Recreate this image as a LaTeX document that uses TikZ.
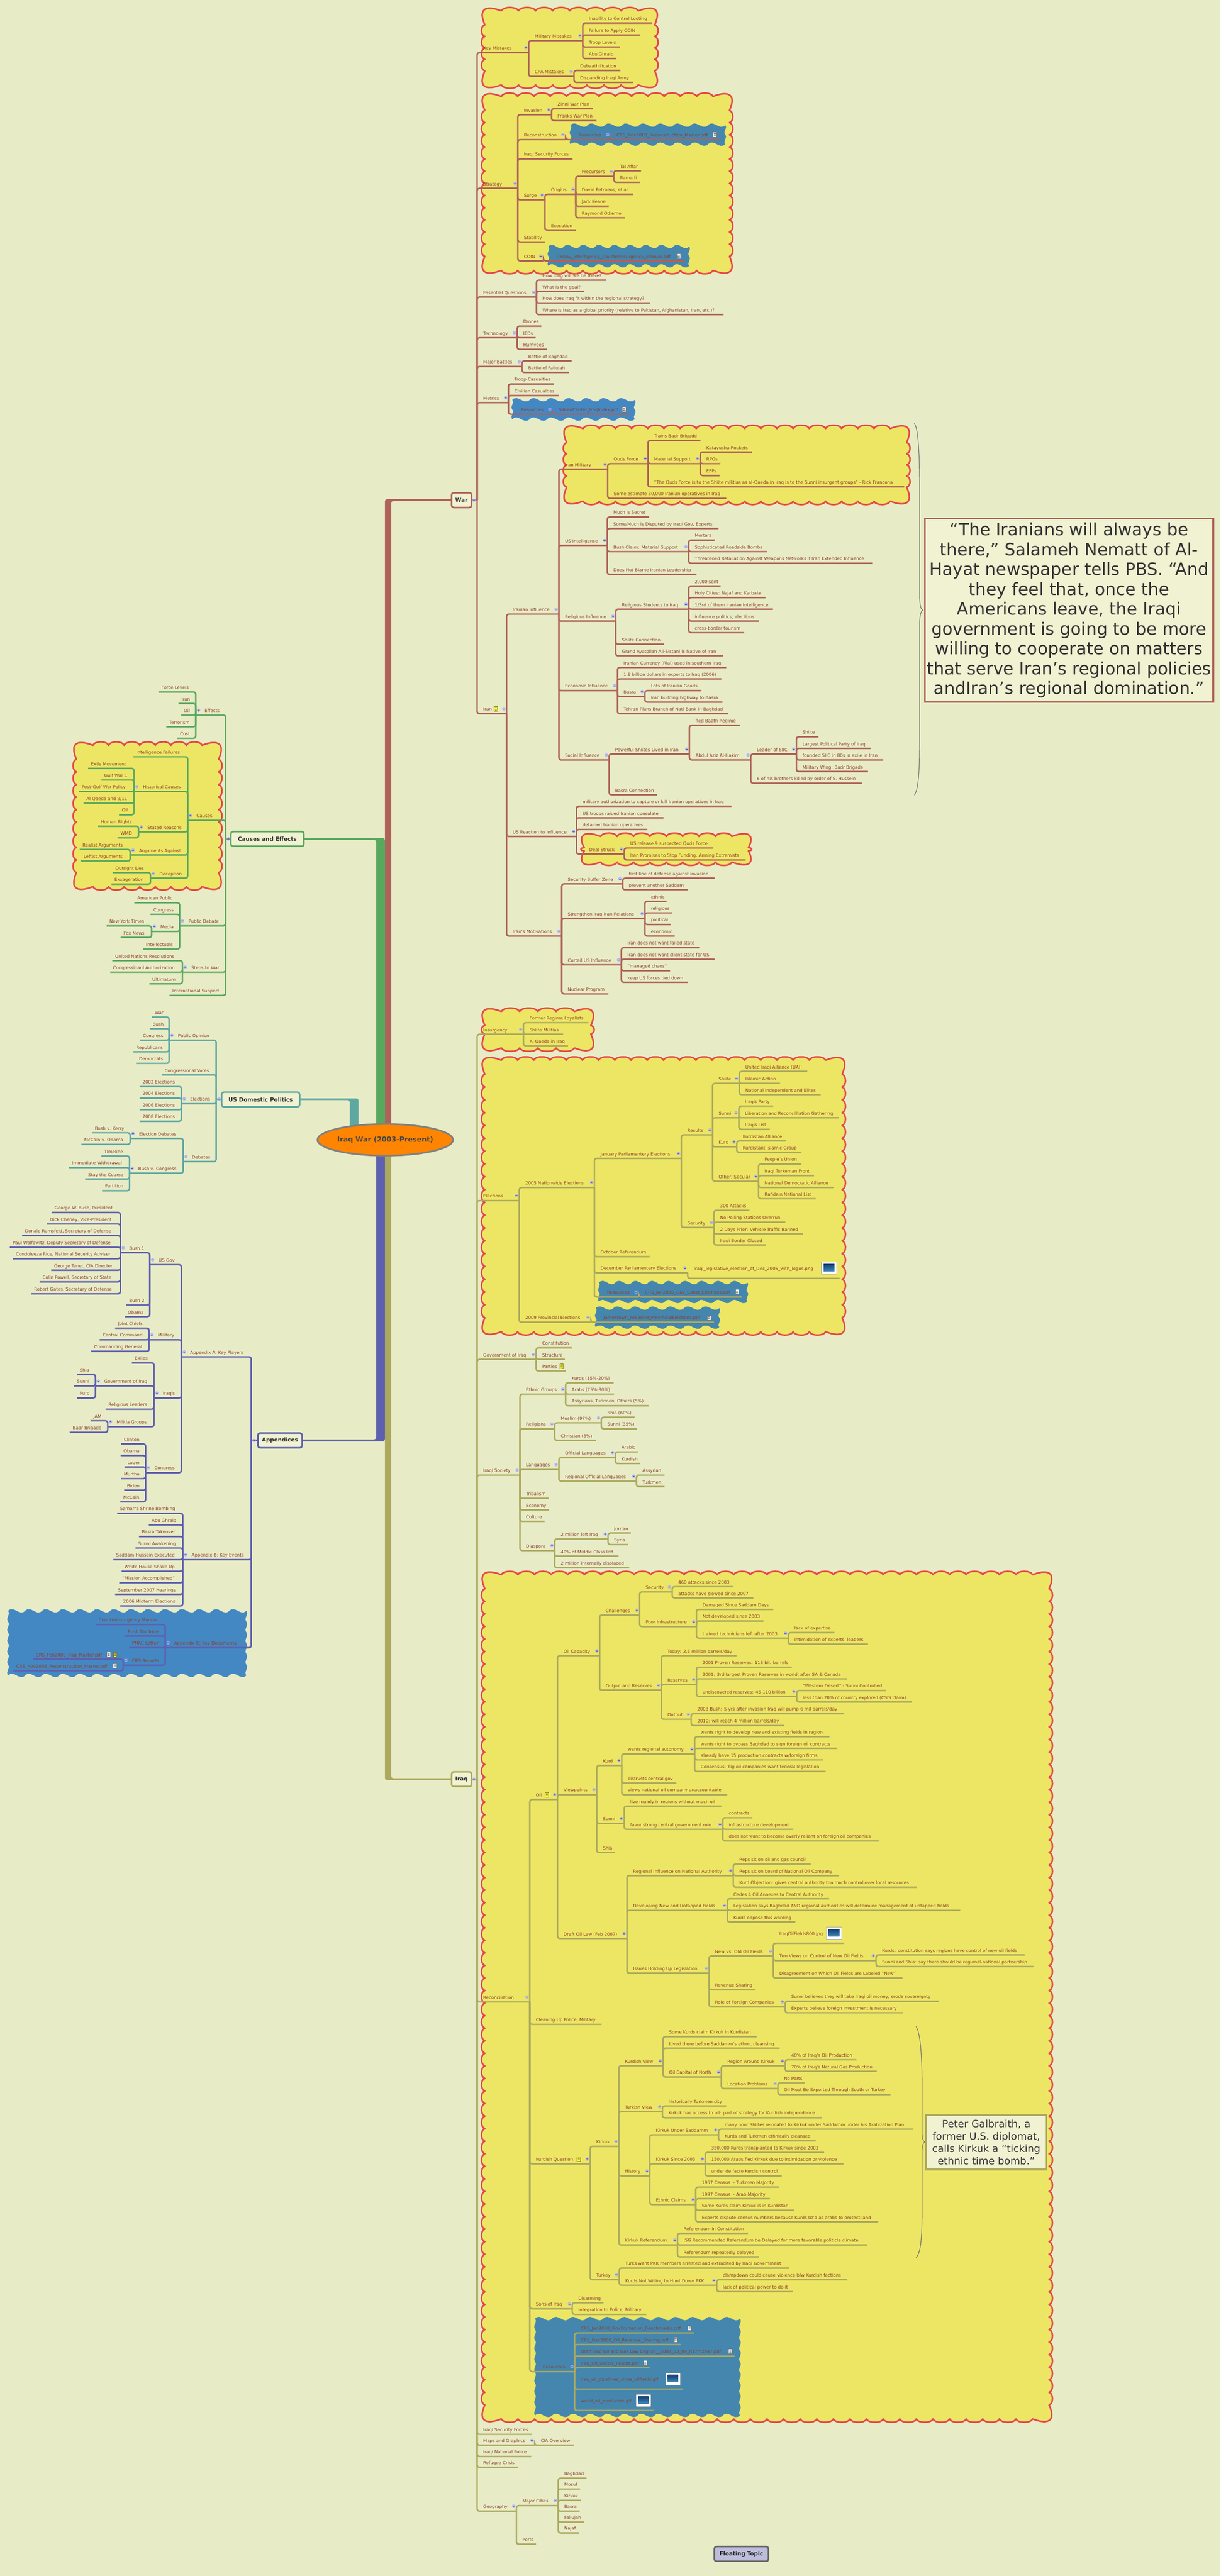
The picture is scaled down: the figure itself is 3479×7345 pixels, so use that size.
\documentclass[tikz,border=0pt]{standalone}
\usepackage{fontspec}
\setmainfont{DejaVu Sans}
\usetikzlibrary{calc,shapes.geometric}
\definecolor{bgc}{HTML}{E8ECC6}
\definecolor{cloudf}{HTML}{EDE665}
\definecolor{cloudl}{HTML}{E54848}
\definecolor{blueA}{HTML}{4586AE}
\definecolor{blueB}{HTML}{4488C3}
\definecolor{txt}{HTML}{8D3F2B}
\definecolor{cwar}{HTML}{AE625A}
\definecolor{cgreen}{HTML}{58A85E}
\definecolor{cteal}{HTML}{5FA8A2}
\definecolor{cpurp}{HTML}{5F5FAF}
\definecolor{coliv}{HTML}{ABA95E}
\definecolor{boxf}{HTML}{F0F2D2}
\definecolor{imgT}{HTML}{163E6E}
\definecolor{imgB}{HTML}{3E88BC}
\tikzset{
  lab/.style={font=\fontsize{6.25}{7.5}\selectfont,text=txt,inner sep=0pt},
  rootb/.style={draw=#1,fill=boxf,rounded corners=3pt,line width=2.2pt,font=\fontsize{7.9}{9}\bfseries\selectfont,text=black!80,inner sep=0pt},
  cloudst/.style={draw=cloudl,fill=cloudf,line width=2.2pt,line join=round},
  callout/.style={draw=#1,fill=boxf,line width=2.4pt,align=center,text=black!80,inner sep=0pt},
  bracecurve/.style={draw=gray!90!black,line width=.9pt},
}
\newcommand\curbr{cwar}
\newcommand\curup{8}
\newcounter{auto}
% scalloped cloud with outer extents x0,y0,x1,y1
\newcommand\cloudb[4]{%
 \pgfmathsetmacro\cy{min(50,(#4-#2)*0.45)}
 \pgfmathtruncatemacro\nx{max(1,round((#3-#1-114)/47))}
 \pgfmathsetmacro\dx{(#3-#1-114)/\nx}
 \pgfmathtruncatemacro\ny{max(1,round((#4-#2-2*\cy)/36))}
 \pgfmathsetmacro\dy{(#4-#2-2*\cy)/\ny}
 \path[cloudst] (#1+57,#2+10)
  \foreach \i in {1,...,\nx}{ .. controls (#1+57+\i*\dx-.9*\dx,#2-3) and (#1+57+\i*\dx-.1*\dx,#2-3) .. (#1+57+\i*\dx,#2+10) }
  .. controls (#3-8,#2-9) and (#3+9,#2+8) .. (#3-10,#2+\cy)
  \foreach \i in {1,...,\ny}{ .. controls (#3+3,#2+\cy+\i*\dy-.9*\dy) and (#3+3,#2+\cy+\i*\dy-.1*\dy) .. (#3-10,#2+\cy+\i*\dy) }
  .. controls (#3+9,#4-8) and (#3-8,#4+9) .. (#3-57,#4-10)
  \foreach \i in {1,...,\nx}{ .. controls (#3-57-\i*\dx+.9*\dx,#4+3) and (#3-57-\i*\dx+.1*\dx,#4+3) .. (#3-57-\i*\dx,#4-10) }
  .. controls (#1+8,#4+9) and (#1-9,#4-8) .. (#1+10,#4-\cy)
  \foreach \i in {1,...,\ny}{ .. controls (#1-3,#4-\cy-\i*\dy+.9*\dy) and (#1-3,#4-\cy-\i*\dy+.1*\dy) .. (#1+10,#4-\cy-\i*\dy) }
  .. controls (#1-9,#2+8) and (#1+8,#2-9) .. (#1+57,#2+10) -- cycle;
}
% wavy panel with outer extents x0,y0,x1,y1 and a colour
\newcommand\waveb[5]{%
 \pgfmathtruncatemacro\nx{max(1,round((#3-#1-8)/47))}
 \pgfmathsetmacro\dx{(#3-#1-8)/\nx}
 \pgfmathtruncatemacro\ny{max(1,round((#4-#2-10)/30))}
 \pgfmathsetmacro\dy{(#4-#2-10)/\ny}
 \fill[#5] (#1+4,#2+5)
  \foreach \i in {1,...,\nx}{ .. controls (#1+4+\i*\dx-.65*\dx,#2-12) and (#1+4+\i*\dx-.35*\dx,#2+22) .. (#1+4+\i*\dx,#2+5) }
  \foreach \i in {1,...,\ny}{ .. controls (#3+4,#2+5+\i*\dy-.65*\dy) and (#3-12,#2+5+\i*\dy-.35*\dy) .. (#3-4,#2+5+\i*\dy) }
  \foreach \i in {1,...,\nx}{ .. controls (#3-4-\i*\dx+.65*\dx,#4+12) and (#3-4-\i*\dx+.35*\dx,#4-22) .. (#3-4-\i*\dx,#4-5) }
  \foreach \i in {1,...,\ny}{ .. controls (#1-4,#4-5-\i*\dy+.65*\dy) and (#1+12,#4-5-\i*\dy+.35*\dy) .. (#1+4,#4-5-\i*\dy) }
  -- cycle;
}
\newcommand\mn[2]{\fill[blue!35!white,opacity=.75] (#1,#2) circle (2.5pt);\draw[blue!50!gray,line width=.35pt] (#1-2.5,#2) -- (#1+2.5,#2);}
\newcommand\fic[2]{\fill[white,draw=gray,line width=.3pt] (#1-5,#2-7) rectangle (#1+5,#2+7);\draw[gray!70!black,line width=.5pt] (#1-3,#2-3) -- (#1+3,#2-3) (#1-3,#2) -- (#1+3,#2) (#1-3,#2+3) -- (#1+3,#2+3);}
\newcommand\nic[2]{\fill[yellow!75!white,draw=olive!80!black,line width=.3pt] (#1-5,#2-6) rectangle (#1+5,#2+7);\draw[olive!80!black,line width=.4pt] (#1-3,#2-3) -- (#1+3,#2-3) (#1-3,#2) -- (#1+3,#2) (#1-3,#2+3) -- (#1+3,#2+3);}
\newcommand\imc[4]{\fill[white,draw=gray,line width=.4pt,rounded corners=.5pt] (#1,#2) rectangle (#3,#4);\shade[top color=imgT,bottom color=imgB] ($(#1,#2)!.15!(#3,#2)+(0,6)$) rectangle ($(#1,#4)!.85!(#3,#4)+(0,-9)$);}
% right side: [pad]{id}{parent}{xend}{y}{text}
\newcommand\Rp[6][17]{%
  \coordinate (#2) at (#4,#5);
  \ifcsname ic@#3\endcsname\else\expandafter\gdef\csname ic@#3\endcsname{}\coordinate (tmpic) at ($(#3)+(-8,-14)$);\fill[blue!35!white,opacity=.75] (tmpic) circle (2.5pt);\draw[blue!50!gray,line width=.35pt] ($(tmpic)+(-2.5,0)$) -- ($(tmpic)+(2.5,0)$);\fi
  \draw[\curbr,line width=2.1pt,rounded corners=3pt] (#3) |- (#2);
  \node[lab,anchor=base west] (#2-t) at ($(#3 |- #2)+(#1,-\curup)$) {#6};
}
\newcommand\Rl[5][17]{\stepcounter{auto}\edef\tmpa{\noexpand\Rp[#1]{a\arabic{auto}}}\tmpa{#2}{#3}{#4}{#5}}
% left side: [offset]{id}{parent}{xend}{y}{text}
\newcommand\Lp[6][25]{%
  \coordinate (#2) at (#4,#5);
  \ifcsname ic@#3\endcsname\else\expandafter\gdef\csname ic@#3\endcsname{}\coordinate (tmpic) at ($(#3)+(8,-14)$);\fill[blue!35!white,opacity=.75] (tmpic) circle (2.5pt);\draw[blue!50!gray,line width=.35pt] ($(tmpic)+(-2.5,0)$) -- ($(tmpic)+(2.5,0)$);\fi
  \draw[\curbr,line width=2.1pt,rounded corners=3pt] (#3) |- (#2);
  \node[lab,anchor=base west] (#2-t) at ($(#2)+(#1,-\curup)$) {#6};
}
\newcommand\Ll[4]{\stepcounter{auto}\edef\tmpa{\noexpand\Lp[8]{a\arabic{auto}}}\tmpa{#1}{#2}{#3}{#4}}
\newcommand\taper[7]{\fill[#1,rounded corners=3pt] (#2,#4) -- (#2,#5-#7) -- (#6,#5-#7) -- (#6,#5+#7) -- (#3,#5+#7) -- (#3,#4) -- cycle;}
\begin{document}
\begin{tikzpicture}[x=0.5pt,y=-0.5pt]
\useasboundingbox (0,0) rectangle (3479,7345);
\fill[bgc] (0,0) rectangle (3479,7345);
% ---- clouds
\cloudb{1372}{21}{1876}{252}
\cloudb{1372}{265}{2089}{781}
\cloudb{1605}{1212}{2594}{1439}
\cloudb{1655}{2375}{2143}{2468}
\cloudb{208}{2115}{633}{2538}
\cloudb{1372}{2874}{1694}{2998}
\cloudb{1372}{3013}{2410}{3807}
\cloudb{1372}{4480}{3000}{6907}
% ---- waves
\waveb{1622}{352}{2071}{416}{blueA}
\waveb{1559}{698}{1968}{763}{blueA}
\waveb{1456}{1135}{1813}{1200}{blueB}
\waveb{19}{4588}{706}{4782}{blueB}
\waveb{1703}{3652}{2134}{3716}{blueA}
\waveb{1694}{3725}{2054}{3789}{blueA}
\waveb{1521}{6606}{2113}{6892}{blueA}
% ---- main branches
\taper{cwar}{1097}{1115}{3240}{1426}{1300}{2.5}
\taper{cgreen}{1097}{1072}{3240}{2392}{830}{2.5}
\taper{cpurp}{1097}{1072}{3260}{4107}{830}{-2.5}
\taper{coliv}{1097}{1115}{3260}{5073}{1300}{-2.5}
\taper{cteal}{1022}{997}{3240}{3134.5}{800}{2.5}
\node[draw=gray,fill={rgb,255:red,255;green,132;blue,0},ellipse,minimum width=180pt,minimum height=45pt,line width=2.4pt,font=\fontsize{10}{12}\bfseries\selectfont,text=black!72,inner sep=0pt] (cen) at (1098,3250) {Iraq War (2003-Present)};
\node[rootb=cwar,minimum width=28.5pt,minimum height=21pt] (warb) at (1315.5,1426) {War};
\node[rootb=coliv,minimum width=28.5pt,minimum height=21pt] (iraqb) at (1315.5,5073) {Iraq};
\node[rootb=cgreen,minimum width=104pt,minimum height=21pt] (caub) at (762,2392) {Causes and Effects};
\node[rootb=cteal,minimum width=111pt,minimum height=21pt] (usb) at (743,3135) {US Domestic Politics};
\node[rootb=cpurp,minimum width=63pt,minimum height=21pt] (appb) at (798,4107) {Appendices};
\node[draw=gray!80!black,fill=blue!30!gray!40!white,rounded corners=3pt,line width=2.2pt,font=\fontsize{7.9}{9}\bfseries\selectfont,text=black!85,minimum width=77pt,minimum height=21pt,inner sep=0pt] (fl) at (2113,7282) {Floating Topic};
\coordinate (war) at (1360,1426);
\coordinate (iraq) at (1360,5073);
\coordinate (cau) at (643,2392);
\coordinate (usd) at (616,3134);
\coordinate (app) at (716,4107);
\expandafter\gdef\csname ic@war\endcsname{}\expandafter\gdef\csname ic@iraq\endcsname{}\expandafter\gdef\csname ic@cau\endcsname{}\expandafter\gdef\csname ic@usd\endcsname{}\expandafter\gdef\csname ic@app\endcsname{}
% ==== WAR
\renewcommand\curbr{cwar}
\draw[cwar,line width=2.1pt] (warb.east) -- (war);
\mn{1351}{1426}
\Rp{km}{war}{1507}{150}{Key Mistakes}
\Rp{mm}{km}{1661}{116}{Military Mistakes}
\Rl{mm}{1858}{66}{Inability to Control Looting}
\Rl{mm}{1825}{100}{Failure to Apply COIN}
\Rl{mm}{1767}{134}{Troop Levels}
\Rl{mm}{1757}{167}{Abu Ghraib}
\Rp{cpa}{km}{1636}{218}{CPA Mistakes}
\Rl{cpa}{1768}{201}{Debaathification}
\Rl{cpa}{1805}{235}{Dispanding Iraqi Army}
\Rp{str}{war}{1476}{537}{Strategy}
\Rp{inv}{str}{1572}{327}{Invasion}
\Rl{inv}{1689}{310}{Zinni War Plan}
\Rl{inv}{1700}{344}{Franks War Plan}
\Rp{rec}{str}{1612}{398}{Reconstruction}
\Rp[37]{recr}{rec}{1740}{398}{Resources}
\Rl{recr}{2052}{398}{CRS\_Nov2008\_Reconstruction\_Master.pdf}
\fic{2037}{384}
\Rl{str}{1632}{453}{Iraqi Security Forces}
\Rp{sur}{str}{1553}{570}{Surge}
\Rp{ori}{sur}{1641}{554}{Origins}
\Rp{pre}{ori}{1750}{503}{Precursors}
\Rl{pre}{1827}{487}{Tal Affar}
\Rl{pre}{1824}{520}{Ramadi}
\Rl{ori}{1804}{554}{David Petraeus, et al.}
\Rl{ori}{1735}{588}{Jack Keane}
\Rl{ori}{1781}{621}{Raymond Odierno}
\Rl{sur}{1641}{656}{Execution}
\Rl{str}{1553}{690}{Stability}
\Rp{coin}{str}{1549}{744}{COIN}
\Rl[37]{coin}{1950}{744}{USGov\_InterAgency\_Counterinsurgency\_Manual.pdf}
\fic{1935}{730}
\Rp{eq}{war}{1529}{847}{Essential Questions}
\Rl{eq}{1728}{799}{How long will we be there?}
\Rl{eq}{1665}{831}{What is the goal?}
\Rl{eq}{1853}{864}{How does Iraq fit within the regional strategy?}
\Rl{eq}{2062}{897}{Where is Iraq as a global priority (relative to Pakistan, Afghanistan, Iran, etc.)?}
\Rp{tec}{war}{1474}{963}{Technology}
\Rl{tec}{1543}{930}{Drones}
\Rl{tec}{1527}{963}{IEDs}
\Rl{tec}{1559}{996}{Humvees}
\Rp{mb}{war}{1488}{1045}{Major Battles}
\Rl{mb}{1629}{1029}{Battle of Baghdad}
\Rl{mb}{1622}{1062}{Battle of Fallujah}
\Rp{met}{war}{1449}{1148}{Metrics}
\Rl{met}{1579}{1095}{Troop Casualties}
\Rl{met}{1593}{1128}{Civilian Casualties}
\Rp[36]{metr}{met}{1575}{1181}{Resources}
\Rl{metr}{1794}{1181}{SabanCenter\_IraqIndex.pdf}
\fic{1779}{1167}
\Rp{iran}{war}{1444}{2035}{Iran}
\nic{1413}{2021}
\Rp{ii}{iran}{1593}{1751}{Iranian Influence}
\Rp{im}{ii}{1732}{1338}{Iran Military}
\Rp{qf}{im}{1847}{1322}{Quds Force}
\Rl{qf}{1996}{1256}{Trains Badr Brigade}
\Rp{ms}{qf}{1996}{1322}{Material Support}
\Rl{ms}{2143}{1289}{Katayusha Rockets}
\Rl{ms}{2053}{1322}{RPGs}
\Rl{ms}{2051}{1356}{EFPs}
\Rl{qf}{2577}{1388}{"The Quds Force is to the Shiite militias as al-Qaeda in Iraq is to the Sunni insurgent groups" - Rick Francona}
\Rl{im}{2070}{1421}{Some estimate 30,000 Iranian operatives in Iraq}
\Rp{ui}{ii}{1731}{1555}{US Intelligence}
\Rl{ui}{1850}{1474}{Much is Secret}
\Rl{ui}{2048}{1507}{Some/Much is Disputed by Iraqi Gov, Experts}
\Rp{bc}{ui}{1963}{1573}{Bush Claim: Material Support}
\Rl{bc}{2037}{1540}{Mortars}
\Rl{bc}{2186}{1573}{Sophisticated Roadside Bombs}
\Rl{bc}{2486}{1606}{Threatened Retaliation Against Weapons Networks if Iran Extended Influence}
\Rl{ui}{1985}{1638}{Does Not Blame Iranian Leadership}
\Rp{ri}{ii}{1755}{1771}{Religious Influence}
\Rp{rs}{ri}{1963}{1737}{Religious Students to Iraq}
\Rl{rs}{2054}{1671}{2,000 sent}
\Rl{rs}{2182}{1704}{Holy Cities: Najaf and Karbala}
\Rl{rs}{2203}{1737}{1/3rd of them Iranian Intelligence}
\Rl{rs}{2163}{1771}{influence politics, elections}
\Rl{rs}{2121}{1804}{cross-border tourism}
\Rl{ri}{1893}{1837}{Shiite Connection}
\Rl{ri}{2061}{1870}{Grand Ayatollah Ali-Sistani is Native of Iran}
\Rp{ei}{ii}{1760}{1969}{Economic Influence}
\Rl{ei}{2070}{1903}{Iranian Currency (Rial) used in southern Iraq}
\Rl{ei}{2056}{1936}{1.8 billion dollars in exports to Iraq (2006)}
\Rp{bas}{ei}{1838}{1986}{Basra}
\Rl{bas}{1999}{1969}{Lots of Iranian Goods}
\Rl{bas}{2059}{2002}{Iran building highway to Basra}
\Rl{ei}{2076}{2035}{Tehran Plans Branch of Natl Bank in Baghdad}
\Rp{si}{ii}{1736}{2167}{Social Influence}
\Rp{ps}{si}{1965}{2150}{Powerful Shiites Lived in Iran}
\Rl{ps}{2109}{2068}{fled Baath Regime}
\Rp{aa}{ps}{2140}{2167}{Abdul Aziz Al-Hakim}
\Rp{ls}{aa}{2270}{2150}{Leader of SIIC}
\Rl{ls}{2333}{2101}{Shiite}
\Rl{ls}{2481}{2134}{Largest Political Party of Iraq}
\Rl{ls}{2517}{2167}{founded SIIC in 80s in exile in Iran}
\Rl{ls}{2474}{2200}{Military Wing: Badr Brigade}
\Rl{aa}{2456}{2233}{6 of his brothers killed by order of S. Hussein}
\Rl{si}{1873}{2266}{Basra Connection}
\Rp{ur}{iran}{1643}{2385}{US Reaction to Influence}
\Rl{ur}{2085}{2299}{military authorization to capture or kill Iranian operatives in Iraq}
\Rl{ur}{1891}{2332}{US troops raided Iranian consulate}
\Rl{ur}{1845}{2365}{detained Iranian operatives}
\Rp[36]{ds}{ur}{1779}{2435}{Deal Struck}
\Rl{ds}{2032}{2418}{US release 9 suspected Quds Force}
\Rl{ds}{2125}{2452}{Iran Promises to Stop Funding, Arming Extremists}
\Rp{imo}{iran}{1601}{2669}{Iran's Motivations}
\Rp{sb}{imo}{1775}{2520}{Security Buffer Zone}
\Rl{sb}{2037}{2504}{first line of defense against invasion}
\Rl{sb}{1960}{2537}{prevent another Saddam}
\Rp{sir}{imo}{1838}{2619}{Strengthen Iraq-Iran Relations}
\Rl{sir}{1900}{2570}{ethnic}
\Rl{sir}{1916}{2603}{religious}
\Rl{sir}{1912}{2636}{political}
\Rl{sir}{1923}{2669}{economic}
\Rp{cu}{imo}{1771}{2751}{Curtail US Influence}
\Rl{cu}{1993}{2702}{Iran does not want failed state}
\Rl{cu}{2037}{2735}{Iran does not want client state for US}
\Rl{cu}{1910}{2768}{"managed chaos"}
\Rl{cu}{1960}{2801}{keep US forces tied down}
\Rl{imo}{1734}{2834}{Nuclear Program}
% brace + callout 1
\draw[bracecurve] (2606,1206) .. controls (2618,1225) and (2621,1300) .. (2621,1400) -- (2621,1700) .. controls (2621,1725) and (2625,1738) .. (2630,1740) .. controls (2625,1742) and (2621,1755) .. (2621,1780) -- (2621,2100) .. controls (2621,2200) and (2618,2250) .. (2606,2267);
\node[callout=cwar,minimum width=411pt,minimum height=261pt,font=\fontsize{24.3}{28.3}\selectfont] (iq) at (3047,1740) {“The Iranians will always be\\there,” Salameh Nematt of Al-\\Hayat newspaper tells PBS. “And\\they feel that, once the\\Americans leave, the Iraqi\\government is going to be more\\willing to cooperate on matters\\that serve Iran’s regional policies\\andIran's regional domination.”};
% ==== CAUSES
\renewcommand\curbr{cgreen}
\draw[cgreen,line width=2.1pt] (caub.west) -- (cau);
\mn{651}{2392}
\Lp{eff}{cau}{558}{2039}{Effects}
\Ll{eff}{452}{1973}{Force Levels}
\Ll{eff}{509}{2006}{Iran}
\Ll{eff}{516}{2039}{Oil}
\Ll{eff}{474}{2072}{Terrorism}
\Ll{eff}{505}{2105}{Cost}
\Lp{cs}{cau}{535}{2339}{Causes}
\Ll{cs}{380}{2158}{Intelligence Failures}
\Lp{hc}{cs}{382}{2257}{Historical Causes}
\Ll{hc}{251}{2191}{Exile Movement}
\Ll{hc}{289}{2224}{Gulf War 1}
\Ll{hc}{225}{2257}{Post-Gulf War Policy}
\Ll{hc}{238}{2290}{Al Qaeda and 9/11}
\Ll{hc}{339}{2323}{Oil}
\Lp{sr}{cs}{395}{2372}{Stated Reasons}
\Ll{sr}{279}{2356}{Human Rights}
\Ll{sr}{335}{2389}{WMD}
\Lp{aag}{cs}{371}{2438}{Arguments Against}
\Ll{aag}{227}{2422}{Realist Arguments}
\Ll{aag}{230}{2455}{Leftist Arguments}
\Lp{dec}{cs}{429}{2504}{Deception}
\Ll{dec}{321}{2488}{Outright Lies}
\Ll{dec}{318}{2521}{Exxageration}
\Lp{pd}{cau}{512}{2640}{Public Debate}
\Ll{pd}{383}{2574}{American Public}
\Ll{pd}{429}{2607}{Congress}
\Lp{med}{pd}{432}{2656}{Media}
\Ll{med}{304}{2640}{New York Times}
\Ll{med}{344}{2673}{Fox News}
\Ll{pd}{408}{2706}{Intellectuals}
\Lp{stw}{cau}{520}{2772}{Steps to War}
\Ll{stw}{320}{2739}{United Nations Resolutions}
\Ll{stw}{314}{2772}{Congressioanl Authorization}
\Ll{stw}{426}{2805}{Ultimatum}
\Ll{cau}{483}{2838}{International Support}
% ==== US DOMESTIC
\renewcommand\curbr{cteal}
\draw[cteal,line width=2.1pt] (usb.west) -- (usd);
\mn{624}{3134}
\Lp{po}{usd}{482}{2966}{Public Opinion}
\Ll{po}{433}{2900}{War}
\Ll{po}{427}{2933}{Bush}
\Ll{po}{399}{2966}{Congress}
\Ll{po}{380}{2999}{Republicans}
\Ll{po}{388}{3032}{Democrats}
\Ll{usd}{461}{3065}{Congressional Votes}
\Lp{el}{usd}{517}{3147}{Elections}
\Ll{el}{398}{3098}{2002 Elections}
\Ll{el}{398}{3131}{2004 Elections}
\Ll{el}{398}{3164}{2006 Elections}
\Ll{el}{398}{3197}{2008 Elections}
\Lp{db}{usd}{522}{3312}{Debates}
\Lp{ed}{db}{371}{3246}{Election Debates}
\Ll{ed}{262}{3230}{Bush v. Kerry}
\Ll{ed}{232}{3263}{McCain v. Obama}
\Lp{bvc}{db}{369}{3345}{Bush v. Congress}
\Ll{bvc}{289}{3296}{Timeline}
\Ll{bvc}{197}{3329}{Immediate Withdrawal}
\Ll{bvc}{243}{3362}{Stay the Course}
\Ll{bvc}{291}{3395}{Partition}
% ==== APPENDICES
\renewcommand\curbr{cpurp}
\draw[cpurp,line width=2.1pt] (appb.west) -- (app);
\mn{724}{4107}
\Lp{aa1}{app}{517}{3869}{Appendix A: Key Players}
\Lp{usg}{aa1}{427}{3606}{US Gov}
\Lp{b1}{usg}{343}{3572}{Bush 1}
\Ll{b1}{147}{3457}{George W. Bush, President}
\Ll{b1}{134}{3490}{Dick Cheney, Vice-President}
\Ll{b1}{63}{3523}{Donald Rumsfeld, Secretary of Defense}
\Ll{b1}{28}{3556}{Paul Wolfowitz, Deputy Secretary of Defense}
\Ll{b1}{37}{3589}{Condoleeza Rice, National Security Adviser}
\Ll{b1}{146}{3622}{George Tenet, CIA Director}
\Ll{b1}{113}{3655}{Colin Powell, Secretary of State}
\Ll{b1}{89}{3689}{Robert Gates, Secretary of Defense}
\Ll{usg}{360}{3721}{Bush 2}
\Ll{usg}{356}{3754}{Obama}
\Lp{mil}{aa1}{425}{3820}{Military}
\Ll{mil}{328}{3787}{Joint Chiefs}
\Ll{mil}{284}{3820}{Central Command}
\Ll{mil}{260}{3853}{Commanding General}
\Lp{irqs}{aa1}{439}{3986}{Iraqis}
\Ll{irqs}{376}{3886}{Exiles}
\Lp{goi}{irqs}{272}{3952}{Government of Iraq}
\Ll{goi}{219}{3919}{Shia}
\Ll{goi}{211}{3952}{Sunni}
\Ll{goi}{219}{3986}{Kurd}
\Ll{irqs}{301}{4018}{Religious Leaders}
\Lp{mg}{irqs}{307}{4068}{Militia Groups}
\Ll{mg}{258}{4051}{JAM}
\Ll{mg}{199}{4084}{Badr Brigade}
\Lp{cng}{aa1}{415}{4199}{Congress}
\Ll{cng}{345}{4117}{Clinton}
\Ll{cng}{344}{4150}{Obama}
\Ll{cng}{355}{4183}{Luger}
\Ll{cng}{345}{4216}{Murtha}
\Ll{cng}{354}{4249}{Biden}
\Ll{cng}{343}{4282}{McCain}
\Lp{ab}{app}{521}{4447}{Appendix B: Key Events}
\Ll{ab}{334}{4315}{Samarra Shrine Bombing}
\Ll{ab}{424}{4348}{Abu Ghraib}
\Ll{ab}{396}{4381}{Basra Takeover}
\Ll{ab}{386}{4414}{Sunni Awakening}
\Ll{ab}{323}{4447}{Saddam Hussein Executed}
\Ll{ab}{347}{4480}{White House Shake Up}
\Ll{ab}{340}{4513}{"Mission Accomplished"}
\Ll{ab}{328}{4546}{September 2007 Hearings}
\Ll{ab}{343}{4579}{2006 Midterm Elections}
\Lp{ac}{app}{471}{4698}{Appendix C: Key Documents}
\Ll{ac}{273}{4632}{Counterinsurgency Manual}
\Ll{ac}{356}{4665}{Bush Doctrine}
\Ll{ac}{368}{4698}{PNAC Letter}
\Lp{crs}{ac}{351}{4748}{CRS Reports}
\Ll{crs}{94}{4731}{CRS\_Feb2009\_Iraq\_Master.pdf}
\fic{310}{4717}\nic{328}{4717}
\Ll{crs}{38}{4764}{CRS\_Nov2008\_Reconstruction\_Master.pdf}
\fic{327}{4750}
% ==== IRAQ
\renewcommand\curbr{coliv}
\draw[coliv,line width=2.1pt] (iraqb.east) -- (iraq);
\mn{1351}{5073}
\Rp{ins}{iraq}{1492}{2949}{Insurgency}
\Rl{ins}{1677}{2916}{Former Regime Loyalists}
\Rl{ins}{1605}{2949}{Shiite Militias}
\Rl{ins}{1619}{2982}{Al Qaeda in Iraq}
\Rp{ele}{iraq}{1480}{3423}{Elections}
\Rp{nw}{ele}{1694}{3386}{2005 Nationwide Elections}
\Rp{jan}{nw}{1942}{3303}{January Parliamentery Elections}
\Rp{res}{jan}{2031}{3236}{Results}
\Rp{shi}{res}{2107}{3089}{Shiite}
\Rl{shi}{2301}{3055}{United Iraqi Alliance (UAI)}
\Rl{shi}{2223}{3089}{Islamic Action}
\Rl{shi}{2339}{3121}{National Independent and Elites}
\Rp{sun}{res}{2106}{3187}{Sunni}
\Rl{sun}{2204}{3154}{Iraqis Party}
\Rl{sun}{2390}{3187}{Liberation and Reconcilliation Gathering}
\Rl{sun}{2194}{3220}{Iraqis List}
\Rp{kur}{res}{2100}{3270}{Kurd}
\Rl{kur}{2240}{3253}{Kurdistan Alliance}
\Rl{kur}{2284}{3286}{Kurdistant Islamic Group}
\Rp{oth}{res}{2162}{3368}{Other, Secular}
\Rl{oth}{2284}{3319}{People's Union}
\Rl{oth}{2320}{3352}{Iraqi Turkoman Front}
\Rl{oth}{2376}{3386}{National Democratic Alliance}
\Rl{oth}{2325}{3418}{Rafidain National List}
\Rp{sec}{jan}{2035}{3500}{Security}
\Rl{sec}{2136}{3451}{300 Attacks}
\Rl{sec}{2238}{3485}{No Polling Stations Overrun}
\Rl{sec}{2289}{3518}{2 Days Prior: Vehicle Traffic Banned}
\Rl{sec}{2183}{3550}{Iraqi Border Closed}
\Rl{nw}{1852}{3583}{October Referendum}
\Rp{dpe}{nw}{1960}{3629}{December Parliamentery Elections}
\renewcommand\curup{23}
\Rl{dpe}{2393}{3645}{Iraqi\_legislative\_election\_of\_Dec\_2005\_with\_logos.png}
\renewcommand\curup{8}
\imc{2341}{3598}{2385}{3633}
\Rp[36]{eres}{nw}{1821}{3698}{Resources}
\Rl{eres}{2115}{3698}{CRS\_Jan2006\_Gov\_Const\_Elections.pdf}
\fic{2101}{3683}
\Rp{pv}{ele}{1684}{3770}{2009 Provincial Elections}
\Rl[36]{pv}{2035}{3770}{Jamestown\_Feb2009\_ProvincialElections.pdf}
\fic{2021}{3757}
\Rp{gi}{iraq}{1528}{3876}{Government of Iraq}
\Rl{gi}{1630}{3843}{Constitution}
\Rl{gi}{1610}{3876}{Structure}
\Rl{gi}{1613}{3909}{Parties}
\nic{1600}{3895}
\Rp{soc}{iraq}{1482}{4206}{Iraqi Society}
\Rp{eg}{soc}{1612}{3975}{Ethnic Groups}
\Rl{eg}{1749}{3943}{Kurds (15\%-20\%)}
\Rl{eg}{1750}{3975}{Arabs (75\%-80\%)}
\Rl{eg}{1849}{4008}{Assyrians, Turkmen, Others (5\%)}
\Rp{rel}{soc}{1581}{4074}{Religions}
\Rp{mus}{rel}{1714}{4057}{Muslim (97\%)}
\Rl{mus}{1809}{4041}{Shia (60\%)}
\Rl{mus}{1816}{4074}{Sunni (35\%)}
\Rl{rel}{1698}{4107}{Christian (3\%)}
\Rp{lan}{soc}{1593}{4190}{Languages}
\Rp{ol}{lan}{1754}{4156}{Official Languages}
\Rl{ol}{1818}{4140}{Arabic}
\Rl{ol}{1825}{4173}{Kurdish}
\Rp{rol}{lan}{1814}{4223}{Regional Official Languages}
\Rl{rol}{1894}{4206}{Assyrian}
\Rl{rol}{1894}{4239}{Turkmen}
\Rl{soc}{1564}{4272}{Tribalism}
\Rl{soc}{1565}{4305}{Economy}
\Rl{soc}{1552}{4338}{Culture}
\Rp{dia}{soc}{1581}{4421}{Diaspora}
\Rp{tm}{dia}{1733}{4388}{2 million left Iraq}
\Rl{tm}{1798}{4371}{Jordan}
\Rl{tm}{1790}{4404}{Syria}
\Rl{dia}{1763}{4437}{40\% of Middle Class left}
\Rl{dia}{1793}{4470}{2 million internally displaced}
\Rp{rcn}{iraq}{1510}{5708}{Reconciliation}
\Rp{oil}{rcn}{1589}{5131}{Oil}
\nic{1558}{5117}
\Rp{oc}{oil}{1709}{4721}{Oil Capacity}
\Rp{cha}{oc}{1823}{4605}{Challenges}
\Rp{osec}{cha}{1916}{4539}{Security}
\Rl{osec}{2089}{4524}{460 attacks since 2003}
\Rl{osec}{2147}{4556}{attacks have slowed since 2007}
\Rp{pin}{cha}{1985}{4638}{Poor Infrastructure}
\Rl{pin}{2204}{4589}{Damaged Since Saddam Days}
\Rl{pin}{2176}{4622}{Not developed since 2003}
\Rp{ttl}{pin}{2247}{4671}{trained technicians left after 2003}
\Rl{ttl}{2378}{4655}{lack of expertise}
\Rl{ttl}{2474}{4688}{intimidation of experts, leaders}
\Rp{oar}{oc}{1885}{4819}{Output and Reserves}
\Rl{oar}{2099}{4721}{Today: 2.5 million barrels/day}
\Rp{rsv}{oar}{1985}{4803}{Reserves}
\Rl{rsv}{2257}{4754}{2001 Proven Reserves: 115 bil. barrels}
\Rl{rsv}{2414}{4787}{2001: 3rd largest Proven Reserves in world, after SA \& Canada}
\Rp{und}{rsv}{2271}{4837}{undiscovered reserves: 45-110 billion}
\Rl{und}{2525}{4820}{"Western Desert" - Sunni Controlled}
\Rl{und}{2599}{4853}{less than 20\% of country explored (CSIS claim)}
\Rp{oup}{oar}{1970}{4902}{Output}
\Rl{oup}{2406}{4886}{2003 Bush: 5 yrs after invasion Iraq will pump 6 mil barrels/day}
\Rl{oup}{2235}{4920}{2010: will reach 4 million barrels/day}
\Rp{vp}{oil}{1701}{5117}{Viewpoints}
\Rp{vk}{vp}{1772}{5034}{Kurd}
\Rp{wra}{vk}{1980}{5001}{wants regional autonomy}
\Rl{wra}{2364}{4952}{wants right to develop new and existing fields in region}
\Rl{wra}{2386}{4985}{wants right to bypass Baghdad to sign foreign oil contracts}
\Rl{wra}{2346}{5018}{already have 15 production contracts w/foreign firms}
\Rl{wra}{2353}{5051}{Consensus: big oil companies want federal legislation}
\Rl{vk}{1928}{5084}{distrusts central gov}
\Rl{vk}{2073}{5117}{views national oil company unaccountable}
\Rp{vs}{vp}{1779}{5199}{Sunni}
\Rl{vs}{2056}{5150}{live mainly in regions without much oil}
\Rp{fav}{vs}{2060}{5216}{favor strong central government role}
\Rl{fav}{2144}{5183}{contracts}
\Rl{fav}{2261}{5216}{infrastructure development}
\Rl{fav}{2505}{5249}{does not want to become overly reliant on foreign oil companies}
\Rl{vp}{1753}{5282}{Shia}
\Rp{dol}{oil}{1787}{5527}{Draft Oil Law (Feb 2007)}
\Rp{rina}{dol}{2090}{5348}{Regional Influence on National Authority}
\Rl{rina}{2311}{5315}{Reps sit on oil and gas council}
\Rl{rina}{2390}{5348}{Reps sit on board of National Oil Company}
\Rl{rina}{2613}{5381}{Kurd Objection: gives central authority too much control over local resources}
\Rp{dnu}{dol}{2073}{5447}{Developing New and Untapped Fields}
\Rl{dnu}{2363}{5414}{Cedes 4 Oil Annexes to Central Authority}
\Rl{dnu}{2737}{5447}{Legislation says Baghdad AND regional authorities will determine management of untapped fields}
\Rl{dnu}{2267}{5480}{Kurds oppose this wording}
\Rp{ihl}{dol}{2021}{5626}{Issues Holding Up Legislation}
\Rp{nvo}{ihl}{2204}{5577}{New vs. Old Oil Fields}
\renewcommand\curup{23}
\Rl{nvo}{2406}{5541}{IraqOilFields800.jpg}
\renewcommand\curup{8}
\imc{2355}{5495}{2399}{5530}
\Rp{tvc}{nvo}{2497}{5590}{Two Views on Control of New Oil Fields}
\Rl{tvc}{2920}{5574}{Kurds: constitution says regions have control of new oil fields}
\Rl{tvc}{2946}{5607}{Sunni and Shia: say there should be regional-national partnership}
\Rl{nvo}{2572}{5640}{Disagreement on Which Oil Fields are Labeled "New"}
\Rl{ihl}{2153}{5673}{Revenue Sharing}
\Rp{rfc}{ihl}{2238}{5722}{Role of Foreign Companies}
\Rl{rfc}{2676}{5706}{Sunni believes they will take Iraqi oil money, erode sovereignty}
\Rl{rfc}{2574}{5739}{Experts believe foreign investment is necessary}
\Rl{rcn}{1715}{5772}{Cleaning Up Police, Military}
\Rp{kq}{rcn}{1682}{6170}{Kurdish Question}
\nic{1649}{6156}
\Rp{kk}{kq}{1764}{6120}{Kirkuk}
\Rp{kv}{kk}{1890}{5890}{Kurdish View}
\Rl{kv}{2157}{5807}{Some Kurds claim Kirkuk in Kurdistan}
\Rl{kv}{2222}{5840}{Lived there before Saddamm's ethnic cleansing}
\Rp{ocn}{kv}{2056}{5922}{Oil Capital of North}
\Rp{rak}{ocn}{2238}{5890}{Region Around Kirkuk}
\Rl{rak}{2441}{5873}{40\% of Iraq's Oil Production}
\Rl{rak}{2499}{5906}{70\% of Iraq's Natural Gas Production}
\Rp{lp}{ocn}{2217}{5955}{Location Problems}
\Rl{lp}{2294}{5939}{No Ports}
\Rl{lp}{2538}{5972}{Oil Must Be Exported Through South or Turkey}
\Rp{tv}{kk}{1888}{6021}{Turkish View}
\Rl{tv}{2070}{6005}{historically Turkmen city}
\Rl{tv}{2342}{6038}{Kirkuk has access to oil: part of strategy for Kurdish independence}
\Rp{his}{kk}{1852}{6204}{History}
\Rp{kus}{his}{2048}{6087}{Kirkuk Under Saddamm}
\Rl{kus}{2602}{6071}{many poor Shiites relocated to Kirkuk under Saddamm under his Arabization Plan}
\Rl{kus}{2325}{6104}{Kurds and Turkmen ethnically cleansed}
\Rp{ksi}{his}{2010}{6170}{Kirkuk Since 2003}
\Rl{ksi}{2349}{6137}{350,000 Kurds transplanted to Kirkuk since 2003}
\Rl{ksi}{2404}{6170}{150,000 Arabs fled Kirkuk due to intimidation or violence}
\Rl{ksi}{2228}{6204}{under de facto Kurdish control}
\Rp{ecl}{his}{1983}{6286}{Ethnic Claims}
\Rl{ecl}{2220}{6236}{1957 Census\ \ - Turkmen Majority}
\Rl{ecl}{2194}{6269}{1997 Census\ \ - Arab Majority}
\Rl{ecl}{2264}{6302}{Some Kurds claim Kirkuk is in Kurdistan}
\Rl{ecl}{2503}{6335}{Experts dispute census numbers because Kurds ID'd as arabs to protect land}
\Rp{krf}{kk}{1931}{6401}{Kirkuk Referendum}
\Rl{krf}{2132}{6368}{Referendum in Constitution}
\Rl{krf}{2472}{6401}{ISG Recommended Referendum be Delayed for more favorable politicla climate}
\Rl{krf}{2162}{6435}{Referendum repeatedly delayed}
\Rp{tky}{kq}{1765}{6500}{Turkey}
\Rl{tky}{2249}{6467}{Turks want PKK members arrested and extradited by Iraqi Government}
\Rp{knw}{tky}{2043}{6516}{Kurds Not Willing to Hunt Down PKK}
\Rl{knw}{2415}{6500}{clampdown could cause violence b/w Kurdish factions}
\Rl{knw}{2259}{6534}{lack of political power to do it}
\Rp{soi}{rcn}{1631}{6583}{Sons of Iraq}
\Rl{soi}{1720}{6566}{Disarming}
\Rl{soi}{1842}{6599}{Integration to Police, Military}
\Rp[37]{rres}{rcn}{1638}{6762}{Resources}
\Rl{rres}{1978}{6652}{CRS\_Jan2008\_GovFormation\_Benchmarks.pdf}
\fic{1965}{6638}
\Rl{rres}{1940}{6685}{CRS\_Dec2008\_Oil\_Revenue\_Sharing.pdf}
\fic{1926}{6671}
\Rl{rres}{2094}{6718}{Draft Iraq Oil and Gas Law English\_\_2007\_03\_09\_h17m2s47.pdf}
\fic{2081}{6704}
\Rl{rres}{1852}{6751}{Iraq\_Oil\_Sector\_Report.pdf}
\fic{1839}{6737}
\renewcommand\curup{23}
\Rl{rres}{1947}{6812}{iraq\_oil\_pipelines\_cities\_oilfields.gif}
\Rl{rres}{1863}{6873}{world\_oil\_producers.gif}
\renewcommand\curup{8}
\imc{1897}{6766}{1939}{6801}
\imc{1813}{6827}{1855}{6862}
\Rl{iraq}{1516}{6941}{Iraqi Security Forces}
\Rp{mg2}{iraq}{1524}{6972}{Maps and Graphics}
\Rl{mg2}{1636}{6972}{CIA Overview}
\Rl{iraq}{1514}{7004}{Iraqi National Police}
\Rl{iraq}{1477}{7035}{Refugee Crisis}
\Rp{geo}{iraq}{1472}{7160}{Geography}
\Rp{mc}{geo}{1591}{7144}{Major Cities}
\Rl{mc}{1672}{7066}{Baghdad}
\Rl{mc}{1653}{7097}{Mosul}
\Rl{mc}{1656}{7129}{Kirkuk}
\Rl{mc}{1652}{7160}{Basra}
\Rl{mc}{1665}{7191}{Fallujah}
\Rl{mc}{1650}{7222}{Najaf}
\Rl{geo}{1528}{7254}{Ports}
% brace + callout 2
\draw[bracecurve] (2611,5778) .. controls (2622,5795) and (2628,5850) .. (2628,5950) -- (2628,6080) .. controls (2628,6098) and (2631,6105) .. (2636,6107) .. controls (2631,6109) and (2628,6118) .. (2628,6135) -- (2628,6300) .. controls (2628,6400) and (2622,6425) .. (2611,6437);
\node[callout=coliv,minimum width=172pt,minimum height=78pt,font=\fontsize{14.3}{17.7}\selectfont] (pg) at (2811,6108) {Peter Galbraith, a\\former U.S. diplomat,\\calls Kirkuk a “ticking\\ethnic time bomb.”};
\end{tikzpicture}
\end{document}
